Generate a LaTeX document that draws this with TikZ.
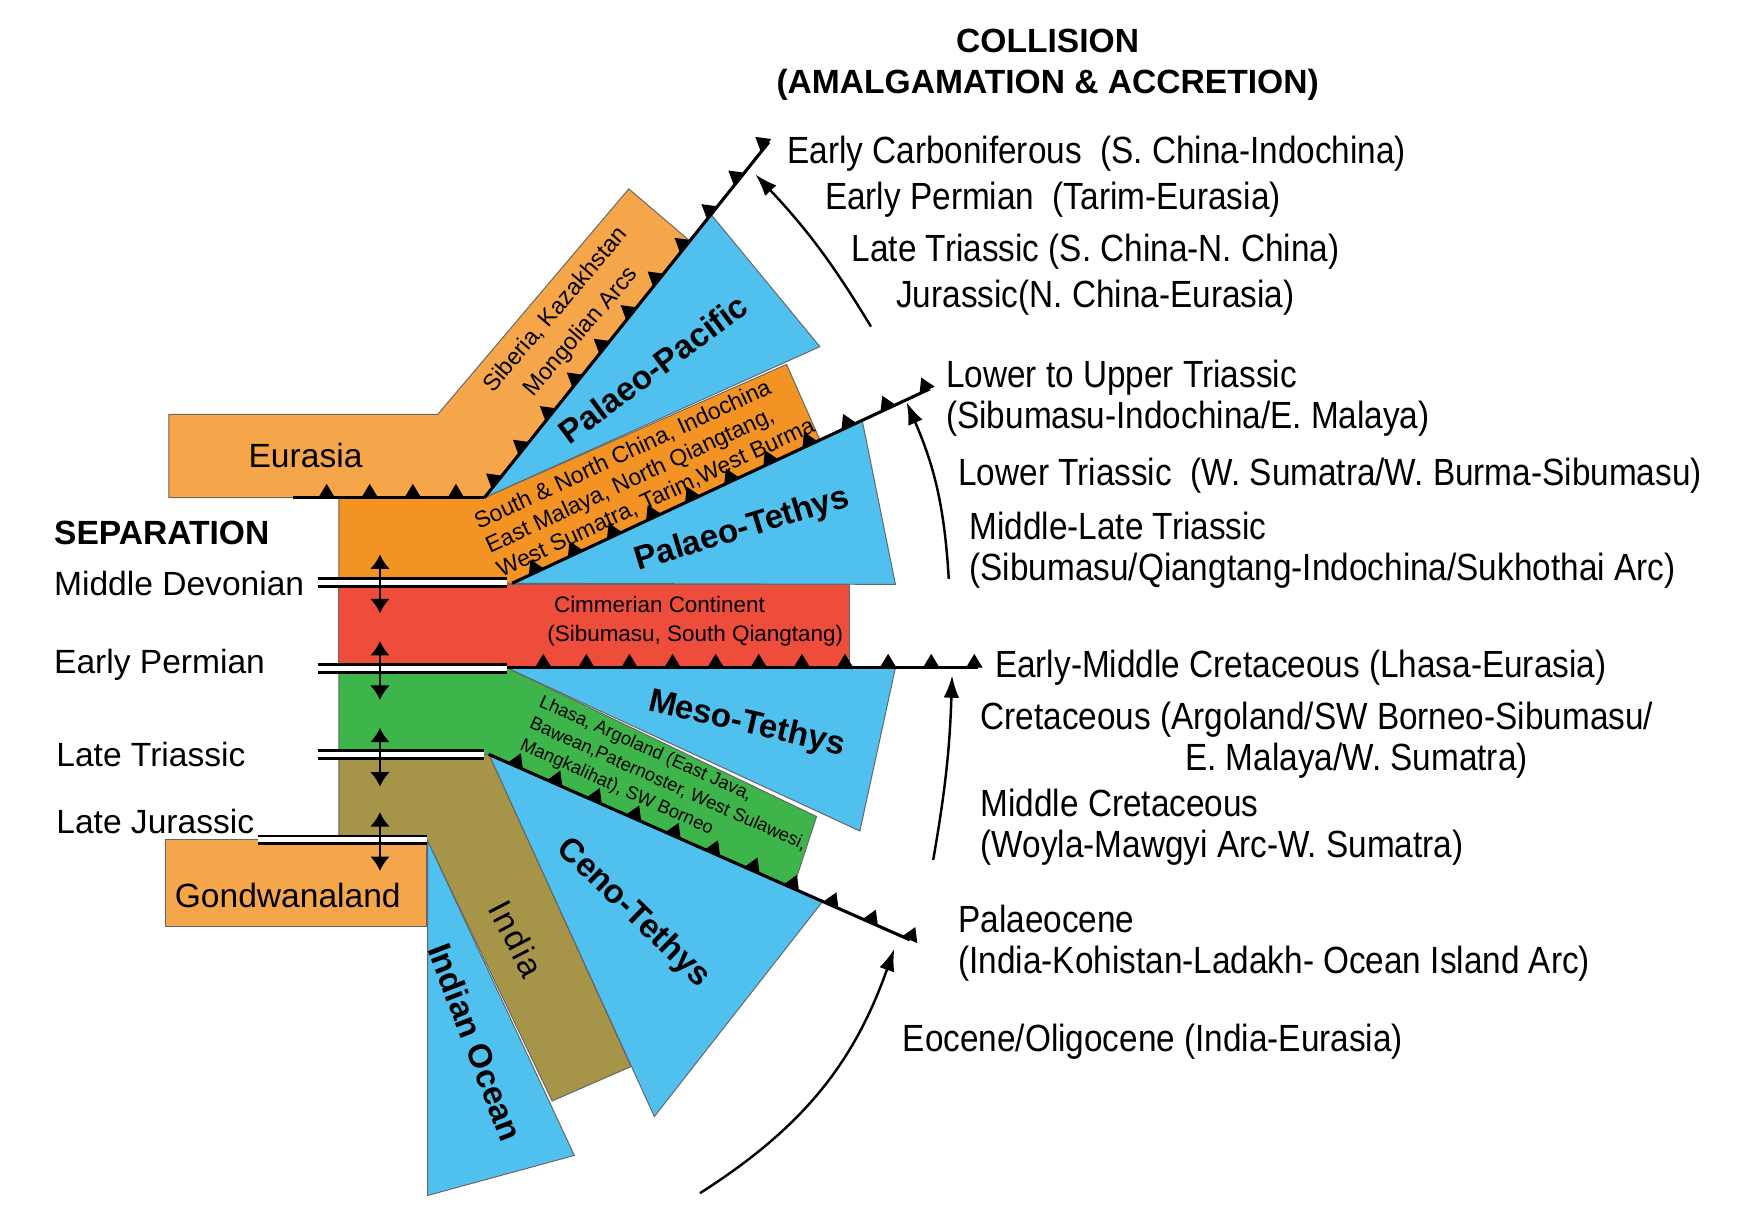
\documentclass[tikz,border=0pt]{standalone}
\usepackage{fontspec}
\setmainfont{Liberation Sans}
\newfontfamily\condfont[FakeStretch=0.88]{Liberation Sans}
\usetikzlibrary{arrows.meta,decorations.markings}

\definecolor{eurorange}{HTML}{F6A64A}
\definecolor{blockorange}{HTML}{F39324}
\definecolor{oceanblue}{HTML}{50C0EE}
\definecolor{cimred}{HTML}{EE4D3C}
\definecolor{lhasagreen}{HTML}{3DB54A}
\definecolor{indiaolive}{HTML}{A69548}

\tikzset{
  plate/.style={draw=black!60, line width=0.25pt},
  thrust/.style={line width=0.28mm, postaction={decorate},
    decoration={markings, mark=between positions #1 and 1 step 3.88mm with
      {\fill (-0.75mm,0) -- (0.75mm,0) -- (0,1.25mm) -- cycle;}}},
  sepline/.style={double=white, double distance=0.45mm, line width=0.25mm},
  sepmove/.style={line width=0.25mm, {Latex[length=1.3mm,width=1.8mm]}-{Latex[length=1.3mm,width=1.8mm]}},
  sweep/.style={line width=0.22mm, -{Latex[length=2mm,width=1.4mm]}},
  lbl/.style={font=\fontsize{8.6}{10}\selectfont, inner sep=0pt},
  head/.style={font=\bfseries\fontsize{8.6}{10.5}\selectfont, inner sep=0pt, align=center},
  ocean/.style={font=\bfseries\fontsize{8.5}{10}\selectfont, inner sep=0pt},
  sml/.style={font=\fontsize{6}{8.5}\selectfont, inner sep=0pt, align=center},
  age/.style={font=\condfont\fontsize{9.7}{10.5}\selectfont, inner sep=0pt, anchor=west, align=left}
}

\begin{document}
\begin{tikzpicture}[x=0.1mm, y=-0.1mm]
    \useasboundingbox (0,0) rectangle (1568,1084);

    % Eurasia with the Siberian arm
    \draw[plate, fill=eurorange] (152,373) -- (394,373) -- (566,170) -- (621,217) -- (436,448) -- (152,448) -- cycle;
    \node[lbl] (eurasia) at (275,410) {Eurasia};
    \node[sml, rotate=49.5] (sibarcs) at (512,289) {Siberia, Kazakhstan\\Mongolian Arcs};

    % central block and the China strip
    \draw[plate, fill=blockorange] (305,448) -- (436,448) -- (708,328) -- (738,396) -- (461,525) -- (305,525) -- cycle;
    \node[sml, anchor=west, align=left, rotate=25, font=\fontsize{5.9}{6.8}\selectfont] (chinablk) at (438,493)
        {South \& North China, Indochina\\East Malaya, North Qiangtang,\\West Sumatra, Tarim,West Burma};

    % Palaeo-Pacific
    \draw[plate, fill=oceanblue] (436,448) -- (640,193) -- (738,312) -- cycle;
    \node[ocean, rotate=36.6] (ppacific) at (588,332) {Palaeo-Pacific};

    % Cimmerian continent
    \draw[plate, fill=cimred] (305,526) rectangle (765,601);
    \node[sml, anchor=west, align=left, font=\fontsize{5.75}{7.4}\selectfont] (cimmerian) at (492,559)
        {\hspace{0.6mm}Cimmerian Continent\\(Sibumasu, South Qiangtang)};

    % Palaeo-Tethys
    \draw[plate, fill=oceanblue] (461,525) -- (776,378) -- (806,526) -- cycle;
    \node[ocean, rotate=17] (ptethys) at (668,477) {Palaeo-Tethys};

    % Meso-Tethys and the Lhasa strip
    \draw[plate, fill=oceanblue] (456,601) -- (806,601) -- (774,748) -- cycle;
    \draw[plate, fill=lhasagreen] (305,601) -- (456,601) -- (735,735) -- (714,799) -- (440,679) -- (305,679) -- cycle;
    \node[ocean, rotate=-13] (mtethys) at (672,652) {Meso-Tethys};
    \node[sml, anchor=west, align=left, rotate=-24, font=\fontsize{4.7}{6}\selectfont] (lhasablk) at (477,651)
        {Lhasa, Argoland (East Java,\\Bawean,Paternoster, West Sulawesi,\\Mangkalihat), SW Borneo};

    % Ceno-Tethys, India, Indian Ocean
    \draw[plate, fill=oceanblue] (440,679) -- (740,812) -- (589,1005) -- cycle;
    \draw[plate, fill=indiaolive] (305,679) -- (440,679) -- (568,960) -- (497,991) -- (385,757) -- (305,757) -- cycle;
    \draw[plate, fill=oceanblue] (385,757) -- (517,1040) -- (385,1076) -- cycle;
    \node[ocean, rotate=-44] (ctethys) at (570,822) {Ceno-Tethys};
    \node[lbl, rotate=-62.5] (india) at (465,845) {I\kern0.5pt n\kern0.5pt d\kern0.5pt i\kern0.5pt a};
    \node[ocean, rotate=-69] (iocean) at (428,938) {Indian Ocean};

    % Gondwanaland
    \draw[plate, fill=eurorange] (149,756) rectangle (384,834);
    \node[lbl] (gondwana) at (259,806) {Gondwanaland};

    % subduction zones
    \draw[thrust=3mm] (264,448) -- (436,448);
    \draw[thrust=1.8mm] (436,448) -- (692,128);
    \draw[thrust=2.4mm] (461,525) -- (837,350);
    \draw[thrust=3.3mm] (456,601) -- (880,601);
    \draw[thrust=2.6mm] (440,679) -- (819,846);

    % separation events
    \draw[sepline] (286,524.5) -- (456,524.5);
    \draw[sepline] (286,601.5) -- (456,601.5);
    \draw[sepline] (286,679) -- (436,679);
    \draw[sepline] (232,756) -- (384,756);
    \coordinate (md1) at (342,499); \coordinate (md2) at (342,552);
    \coordinate (ep1) at (342,577); \coordinate (ep2) at (342,630);
    \coordinate (lt1) at (342,655); \coordinate (lt2) at (342,708);
    \coordinate (lj1) at (342,731); \coordinate (lj2) at (342,784);
    \draw[sepmove] (md1) -- (md2);
    \draw[sepmove] (ep1) -- (ep2);
    \draw[sepmove] (lt1) -- (lt2);
    \draw[sepmove] (lj1) -- (lj2);

    \node[head, anchor=west] (separation) at (48,480) {SEPARATION};
    \node[lbl, anchor=west] (devonian) at (48,525) {Middle Devonian};
    \node[lbl, anchor=west] (permian) at (48,598) {Early Permian};
    \node[lbl, anchor=west] (triassic) at (50,679) {Late Triassic};
    \node[lbl, anchor=west] (jurassic) at (50,739) {Late Jurassic};

    % collision events
    \node[head] (collision) at (943,58) {COLLISION\\(AMALGAMATION \& ACCRETION)};

    \node[age] (carb) at (708,138) {Early Carboniferous\ \ (S. China-Indochina)};
    \node[age] (eperm) at (742,180) {Early Permian\ \ (Tarim-Eurasia)};
    \node[age] (ltri) at (766,227) {Late Triassic (S. China-N. China)};
    \node[age] (jura) at (806,268) {Jurassic(N. China-Eurasia)};
    \node[age] (lutri) at (851,358.5) {Lower to Upper Triassic\\(Sibumasu-Indochina/E. Malaya)};
    \node[age] (lowtri) at (862,428) {Lower Triassic\ \ (W. Sumatra/W. Burma-Sibumasu)};
    \node[age] (mltri) at (872,495.5) {Middle-Late Triassic\\(Sibumasu/Qiangtang-Indochina/Sukhothai Arc)};
    \node[age] (emcret) at (895,601) {Early-Middle Cretaceous (Lhasa-Eurasia)};
    \node[age] (cret) at (882,648) {Cretaceous (Argoland/SW Borneo-Sibumasu/};
    \node[age] (cret2) at (1066,685) {E. Malaya/W. Sumatra)};
    \node[age] (mcret) at (882,744.5) {Middle Cretaceous\\(Woyla-Mawgyi Arc-W. Sumatra)};
    \node[age] (palc) at (862,849) {Palaeocene\\(India-Kohistan-Ladakh- Ocean Island Arc)};
    \node[age] (eoc) at (812,938) {Eocene/Oligocene (India-Eurasia)};

    % younging arrows
    \coordinate (sw1a) at (784,294); \coordinate (sw1b) at (680,157);
    \coordinate (sw2a) at (854,521); \coordinate (sw2b) at (816,362);
    \coordinate (sw3a) at (840,774); \coordinate (sw3b) at (857,608);
    \coordinate (sw4a) at (630,1074); \coordinate (sw4b) at (805,854);
    \draw[sweep] (sw1a) to[bend right=6] (sw1b);
    \draw[sweep] (sw2a) to[bend right=10] (sw2b);
    \draw[sweep] (sw3a) to[bend right=4] (sw3b);
    \draw[sweep] (sw4a) to[bend right=19] (sw4b);
\end{tikzpicture}
\end{document}
